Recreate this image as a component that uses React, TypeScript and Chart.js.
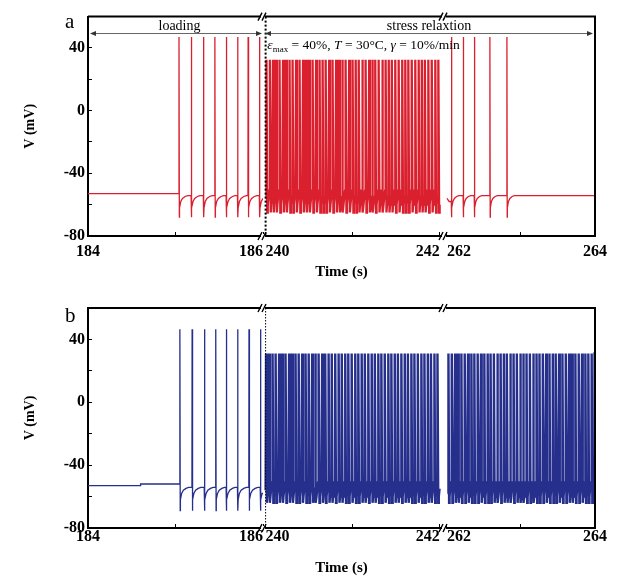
import React, { useEffect, useRef } from 'react';
import { Chart, registerables } from 'chart.js';

Chart.register(...registerables);

const FONT = '"Liberation Serif", "Times New Roman", serif';

// ---- broken time axis: three segments ----
const segMin = [184, 239.97, 261.96];
const segMax = [186, 242.05, 264];
const segWeight = [175, 181, 151];
const x1Ticks = [184, 184, 185, 186];
const x1Labels = ['', '184', '', '186'];
const x2Ticks = [240, 241, 242];
const x2Labels = ['240', '', '242'];
const x3Ticks = [262, 263, 264, 264];
const x3Labels = ['262', '', '264', ''];

// ---- voltage axis ----
const yMin = -80;
const yMax = 60;
const yStep = 20;
const yLabelled = [-80, -40, 0, 40];

// ---- spike shapes ----
// isolated spikes: fast fall, then slow recovery to rest
const isoFall = 0.004;
const isoRecDt = [0.006, 0.02, 0.04, 0.07, 0.1];
const isoRecV = [-62, -58, -56, -54.8, -54.2];
// dense (tonic) firing: slower fall, recovery keeps rising to threshold
const denseFall = 0.009;
const denseRecDt = [0.015, 0.024, 0.033];
const denseRecV = [-60, -55, -51];

// ---- panel a (red) ----
const aLead1 = [[184, -53]];
const aSpikes1 = [185.04, 185.18, 185.32, 185.45, 185.58, 185.71, 185.83, 185.96];
const aLead2 = [[240, -56]];
const aSpikes2 = [
  240.01, 240.05, 240.085, 240.12, 240.16, 240.2, 240.235, 240.275, 240.31, 240.35,
  240.39, 240.43, 240.465, 240.5, 240.54, 240.58, 240.62, 240.655, 240.69, 240.73,
  240.77, 240.81, 240.845, 240.88, 240.92, 240.96, 241.0, 241.035, 241.07, 241.11,
  241.15, 241.19, 241.225, 241.26, 241.3, 241.34, 241.38, 241.415, 241.45, 241.49,
  241.53, 241.57, 241.605, 241.64, 241.68, 241.72, 241.76, 241.795, 241.83, 241.87,
  241.91, 241.95, 241.985,
];
const aLead3 = [[262, -56], [262.03, -58]];
const aSpikes3 = [262.06, 262.22, 262.37, 262.58, 262.81];
const aPeak = [47, 32.5, 47];
const aTrough = [-68, -65, -68];

// ---- panel b (blue) ----
const bLead1 = [[184, -53], [184.6, -53], [184.601, -52]];
const bSpikes1 = [185.05, 185.19, 185.33, 185.46, 185.58, 185.71, 185.84, 185.97];
const bLead2 = [[240, -56]];
const bSpikes2 = [
  240.005, 240.04, 240.08, 240.115, 240.155, 240.19, 240.23, 240.27, 240.305, 240.345,
  240.38, 240.42, 240.46, 240.495, 240.535, 240.57, 240.61, 240.65, 240.685, 240.725,
  240.76, 240.8, 240.84, 240.875, 240.915, 240.95, 240.99, 241.03, 241.065, 241.105,
  241.14, 241.18, 241.22, 241.255, 241.295, 241.33, 241.37, 241.41, 241.445, 241.485,
  241.52, 241.56, 241.6, 241.635, 241.675, 241.71, 241.75, 241.79, 241.825, 241.865,
  241.9, 241.94, 241.975,
];
const bLead3 = [[262.01, -58]];
const bSpikes3 = [
  262.02, 262.065, 262.11, 262.15, 262.195, 262.24, 262.285, 262.33, 262.37, 262.415,
  262.46, 262.505, 262.55, 262.59, 262.635, 262.68, 262.725, 262.77, 262.81, 262.855,
  262.9, 262.945, 262.99, 263.03, 263.075, 263.12, 263.165, 263.21, 263.25, 263.295,
  263.34, 263.385, 263.43, 263.47, 263.515, 263.56, 263.605, 263.65, 263.69, 263.735,
  263.78, 263.825, 263.87, 263.91, 263.955, 263.995,
];
const bPeak = [46.5, 31, 31];
const bTrough = [-69, -64, -64];

type Pt = { x: number; y: number };
type Shape = { fall: number; dt: number[]; v: number[] };
const ISO: Shape = { fall: isoFall, dt: isoRecDt, v: isoRecV };
const DENSE: Shape = { fall: denseFall, dt: denseRecDt, v: denseRecV };

function buildTrace(lead: number[][], spikes: number[], peak: number, trough: number, end: number, shape: Shape): Pt[] {
  const pts: Pt[] = lead.map(([x, y]) => ({ x, y }));
  spikes.forEach((t, i) => {
    const next = i < spikes.length - 1 ? spikes[i + 1] : Infinity;
    const prev = pts[pts.length - 1];
    if (prev.x < t - 0.002) pts.push({ x: t - 0.002, y: prev.y });
    pts.push({ x: t, y: peak });
    if (t + shape.fall <= end) pts.push({ x: t + shape.fall, y: trough });
    shape.dt.forEach((dt, k) => {
      if (t + dt < next - 0.003 && t + dt <= end) pts.push({ x: t + dt, y: shape.v[k] });
    });
  });
  const last = pts[pts.length - 1];
  if (last.x < end) pts.push({ x: end, y: last.y });
  return pts;
}

function drawArrowHead(ctx: CanvasRenderingContext2D, x: number, y: number, dir: number) {
  ctx.beginPath();
  ctx.moveTo(x, y);
  ctx.lineTo(x - dir * 6, y - 2.5);
  ctx.lineTo(x - dir * 6, y + 2.5);
  ctx.closePath();
  ctx.fill();
}

function framePlugin(dotWidth: number, dotDash: number[]) {
  return {
    id: 'frame',
    afterDatasetsDraw(chart: any) {
      const { ctx, chartArea } = chart;
      const x2 = chart.scales.x2;
      const xd = x2.getPixelForValue(240);
      ctx.save();
      ctx.strokeStyle = '#000';
      ctx.lineWidth = dotWidth;
      ctx.setLineDash(dotDash);
      ctx.beginPath();
      ctx.moveTo(xd, chartArea.top);
      ctx.lineTo(xd, chartArea.bottom);
      ctx.stroke();
      ctx.restore();
    },
    afterDraw(chart: any) {
      const { ctx, chartArea } = chart;
      ctx.save();
      ctx.strokeStyle = '#000';
      ctx.lineWidth = 2;
      ctx.beginPath();
      ctx.moveTo(chartArea.left, chartArea.top);
      ctx.lineTo(chartArea.right, chartArea.top);
      ctx.lineTo(chartArea.right, chartArea.bottom);
      ctx.stroke();
      const bounds = [chart.scales.x1.right, chart.scales.x2.right];
      bounds.forEach((bx: number) => {
        [chartArea.top, chartArea.bottom].forEach((by: number) => {
          ctx.fillStyle = '#fff';
          ctx.fillRect(bx - 2, by - 2, 4, 4);
          ctx.lineWidth = 1.4;
          ctx.beginPath();
          ctx.moveTo(bx - 5, by + 4);
          ctx.lineTo(bx - 1, by - 4);
          ctx.moveTo(bx - 1, by + 4);
          ctx.lineTo(bx + 3, by - 4);
          ctx.stroke();
        });
      });
      ctx.restore();
    },
  };
}

function letterPlugin(letter: string, yValue: number) {
  return {
    id: 'letter',
    afterDraw(chart: any) {
      const { ctx } = chart;
      const y = chart.scales.y.getPixelForValue(yValue);
      ctx.save();
      ctx.fillStyle = '#000';
      ctx.font = `21px ${FONT}`;
      ctx.textAlign = 'left';
      ctx.textBaseline = 'alphabetic';
      ctx.fillText(letter, chart.chartArea.left - 23, y);
      ctx.restore();
    },
  };
}

const annotationPlugin = {
  id: 'annot',
  afterDraw(chart: any) {
    const { ctx } = chart;
    const y = chart.scales.y;
    const x1 = chart.scales.x1;
    const x2 = chart.scales.x2;
    const x3 = chart.scales.x3;
    const ay = Math.round(y.getPixelForValue(49.4)) + 0.5;
    ctx.save();
    ctx.strokeStyle = '#666';
    ctx.fillStyle = '#333';
    ctx.lineWidth = 1;
    ctx.beginPath();
    ctx.moveTo(x1.left + 3, ay);
    ctx.lineTo(x1.right - 2, ay);
    ctx.moveTo(x2.left + 3, ay);
    ctx.lineTo(x3.right - 3, ay);
    ctx.stroke();
    drawArrowHead(ctx, x1.left + 2, ay, -1);
    drawArrowHead(ctx, x1.right - 1, ay, 1);
    drawArrowHead(ctx, x2.left + 2, ay, -1);
    drawArrowHead(ctx, x3.right - 2, ay, 1);

    ctx.fillStyle = '#000';
    ctx.font = `14px ${FONT}`;
    ctx.textAlign = 'center';
    ctx.textBaseline = 'alphabetic';
    ctx.fillText('loading', (x1.left + x1.right) / 2 + 4, ay - 4);
    ctx.fillText('stress relaxtion', (x2.left + x3.right) / 2, ay - 4);

    // condition text
    const parts: { t: string; italic?: boolean; sub?: boolean }[] = [
      { t: 'ε', italic: true },
      { t: 'max', sub: true },
      { t: ' = 40%, ' },
      { t: 'T', italic: true },
      { t: ' = 30°C, ' },
      { t: 'γ', italic: true },
      { t: ' = 10%/min' },
    ];
    let tx = x2.getPixelForValue(240.02);
    const ty = y.getPixelForValue(39.6);
    ctx.textAlign = 'left';
    parts.forEach((p) => {
      const size = p.sub ? 9 : 13.5;
      ctx.font = `${p.italic ? 'italic ' : ''}${size}px ${FONT}`;
      ctx.fillText(p.t, tx, p.sub ? ty + 3 : ty);
      tx += ctx.measureText(p.t).width;
    });
    ctx.restore();
  },
};

type PanelProps = {
  top: number;
  height: number;
  color: string;
  traces: Pt[][];
  widths: number[];
  xAxisHeight: number;
  xTickPad: number;
  titlePadBottom: number;
  layoutTop: number;
  plugins: any[];
};

function Panel({ top, height, color, traces, widths, xAxisHeight, xTickPad, titlePadBottom, layoutTop, plugins }: PanelProps) {
  const ref = useRef<HTMLCanvasElement>(null);
  useEffect(() => {
    if (!ref.current) return;
    const tickFont = { family: FONT, size: 16, weight: 'bold' as const };
    const xScale = (i: number, ticks: number[], labels: string[]) => ({
      type: 'linear',
      position: 'bottom',
      stack: 'time',
      stackWeight: segWeight[i],
      min: segMin[i],
      max: segMax[i],
      bounds: 'data',
      afterBuildTicks: (s: any) => {
        s.ticks = ticks.map((v) => ({ value: v }));
      },
      afterFit: (s: any) => {
        s.height = xAxisHeight;
      },
      grid: { drawOnChartArea: false, drawTicks: true, tickLength: -4, tickColor: '#000', tickWidth: 1 },
      border: { display: true, color: '#000', width: 2 },
      ticks: {
        autoSkip: false,
        maxRotation: 0,
        minRotation: 0,
        align: 'inner',
        padding: xTickPad,
        color: '#000',
        font: tickFont,
        callback: (_v: any, idx: number) => labels[idx],
      },
    });
    const chart = new Chart(ref.current, {
      type: 'line',
      data: {
        datasets: traces.map((d, i) => ({
          data: d,
          xAxisID: 'x' + (i + 1),
          yAxisID: 'y',
          borderColor: color,
          borderWidth: widths[i],
          pointRadius: 0,
          tension: 0,
          fill: false,
        })),
      },
      options: {
        animation: false,
        responsive: false,
        devicePixelRatio: 1,
        parsing: false as any,
        normalized: true,
        layout: { padding: { top: layoutTop, right: 32, left: 0, bottom: 0 } },
        plugins: {
          legend: { display: false },
          tooltip: { enabled: false },
          title: {
            display: true,
            text: 'Time (s)',
            position: 'bottom',
            fullSize: false,
            color: '#000',
            font: { family: FONT, size: 15, weight: 'bold' },
            padding: { top: 0, bottom: titlePadBottom },
          },
        },
        scales: {
          x1: xScale(0, x1Ticks, x1Labels),
          x2: xScale(1, x2Ticks, x2Labels),
          x3: xScale(2, x3Ticks, x3Labels),
          y: {
            type: 'linear',
            position: 'left',
            min: yMin,
            max: yMax,
            afterFit: (s: any) => {
              s.width = 88;
            },
            grid: { drawOnChartArea: false, drawTicks: true, tickLength: -4, tickColor: '#000', tickWidth: 1 },
            border: { display: true, color: '#000', width: 2 },
            ticks: {
              stepSize: yStep,
              autoSkip: false,
              padding: 7,
              color: '#000',
              font: tickFont,
              callback: (v: any) => (yLabelled.includes(Number(v)) ? String(v) : ''),
            },
            title: {
              display: true,
              text: 'V (mV)',
              color: '#000',
              font: { family: FONT, size: 14, weight: 'bold' },
              padding: { top: 22, bottom: 0 },
            },
          },
        } as any,
      },
      plugins,
    } as any);
    return () => chart.destroy();
  }, []);
  return (
    <canvas
      ref={ref}
      width={627}
      height={height}
      style={{ position: 'absolute', left: 0, top, width: 627, height }}
    />
  );
}

export default function App() {
  const aTraces = [
    buildTrace(aLead1, aSpikes1, aPeak[0], aTrough[0], segMax[0], ISO),
    buildTrace(aLead2, aSpikes2, aPeak[1], aTrough[1], 242, DENSE),
    buildTrace(aLead3, aSpikes3, aPeak[2], aTrough[2], segMax[2], ISO),
  ];
  const bTraces = [
    buildTrace(bLead1, bSpikes1, bPeak[0], bTrough[0], segMax[0], ISO),
    buildTrace(bLead2, bSpikes2, bPeak[1], bTrough[1], 242, DENSE),
    buildTrace(bLead3, bSpikes3, bPeak[2], bTrough[2], segMax[2], DENSE),
  ];
  return (
    <div style={{ position: 'absolute', left: 0, top: 0, width: 627, height: 583, background: '#fff' }}>
      <Panel
        top={0}
        height={290}
        color="rgb(218, 32, 46)"
        traces={aTraces}
        widths={[1.3, 2.3, 1.3]}
        xAxisHeight={27}
        xTickPad={10}
        titlePadBottom={9}
        layoutTop={12}
        plugins={[framePlugin(2, [2, 2]), annotationPlugin, letterPlugin('a', 52.5)]}
      />
      <Panel
        top={290}
        height={293}
        color="rgb(38, 48, 140)"
        traces={bTraces}
        widths={[1.3, 2.4, 2.4]}
        xAxisHeight={31}
        xTickPad={3}
        titlePadBottom={6}
        layoutTop={18}
        plugins={[framePlugin(1, [1.5, 1.5]), letterPlugin('b', 51)]}
      />
    </div>
  );
}
